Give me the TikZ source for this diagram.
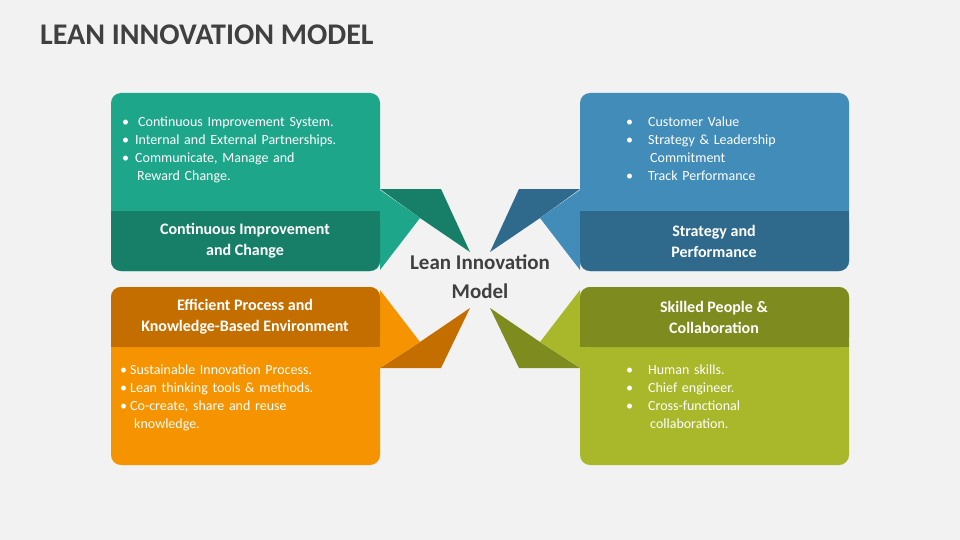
\documentclass[tikz,border=0pt]{standalone}
\usepackage{fontspec}
\setmainfont{Carlito}
\definecolor{tl}{HTML}{1EA68A}\definecolor{td}{HTML}{177F67}
\definecolor{bl}{HTML}{418CB8}\definecolor{bd}{HTML}{2F6A8C}
\definecolor{ol}{HTML}{F59300}\definecolor{od}{HTML}{C46E00}
\definecolor{gl}{HTML}{A8B82A}\definecolor{gd}{HTML}{7E8B1F}
\definecolor{bg}{HTML}{F2F2F2}\definecolor{tx}{HTML}{404040}
\begin{document}
\begin{tikzpicture}[x=1pt,y=-1pt,
  body/.style={text=white,font=\fontsize{14}{18}\selectfont,align=left,anchor=north west,text width=250pt,inner sep=0pt},
  head/.style={text=white,font=\bfseries\fontsize{16}{21}\selectfont,align=center}]
\fill[bg] (0,0) rectangle (960,540);
\useasboundingbox (0,0) rectangle (960,540);
\node[anchor=west,text=tx,font=\bfseries\fontsize{30}{34}\selectfont,inner sep=0pt] (title) at (40,35) {LEAN INNOVATION MODEL};
% folds
\fill[td] (380,189)--(441,189)--(470,252)--(420,218)--cycle;
\fill[tl] (380,190)--(420,218)--(380,270)--cycle;
\fill[bd] (580,189)--(519,189)--(490,252)--(540,218)--cycle;
\fill[bl] (580,190)--(540,218)--(580,270)--cycle;
\fill[od] (380,368)--(441,368)--(470,308)--(420,342)--cycle;
\fill[ol] (380,290)--(420,342)--(380,368)--cycle;
\fill[gd] (580,368)--(519,368)--(490,308)--(540,342)--cycle;
\fill[gl] (580,290)--(540,342)--(580,368)--cycle;
% boxes
\fill[tl,rounded corners=10pt] (111,93) rectangle (380,271);
\fill[td,rounded corners=10pt] (111,211) rectangle (380,271);
\fill[td] (111,211) rectangle (380,240);
\fill[bl,rounded corners=10pt] (580,93) rectangle (849,271);
\fill[bd,rounded corners=10pt] (580,211) rectangle (849,271);
\fill[bd] (580,211) rectangle (849,240);
\fill[ol,rounded corners=10pt] (111,287) rectangle (380,465);
\fill[od,rounded corners=10pt] (111,287) rectangle (380,347);
\fill[od] (111,320) rectangle (380,347);
\fill[gl,rounded corners=10pt] (580,287) rectangle (849,465);
\fill[gd,rounded corners=10pt] (580,287) rectangle (849,347);
\fill[gd] (580,320) rectangle (849,347);
% texts
\node[head] (h1) at (245,241) {Continuous Improvement\\and Change};
\node[head] (h2) at (714,241) {Strategy and\\Performance};
\node[head] (h3) at (245,317) {Efficient Process and\\Knowledge-Based Environment};
\node[head] (h4) at (714,317) {Skilled People \&\\Collaboration};
\node[body] (b1) at (122,117) {\textbullet\hspace{9pt}Continuous Improvement System.\\
\textbullet\hspace{6pt}Internal and External Partnerships.\\
\textbullet\hspace{6pt}Communicate, Manage and\\\hspace{15pt}Reward Change.};
\node[body] (b2) at (626,117) {\textbullet\hspace{15pt}Customer Value\\
\textbullet\hspace{15pt}Strategy \& Leadership\\\hspace{24pt}Commitment\\
\textbullet\hspace{15pt}Track Performance};
\node[body] (b3) at (120,337) {};
\node[body] (b3) at (120,365) {\textbullet\hspace{3pt}Sustainable Innovation Process.\\
\textbullet\hspace{3pt}Lean thinking tools \& methods.\\
\textbullet\hspace{3pt}Co-create, share and reuse\\\hspace{14pt}knowledge.};
\node[body] (b4) at (626,365) {\textbullet\hspace{15pt}Human skills.\\
\textbullet\hspace{15pt}Chief engineer.\\
\textbullet\hspace{15pt}Cross-functional\\\hspace{24pt}collaboration.};
\node[text=tx,font=\bfseries\fontsize{21}{29}\selectfont,align=center] (c) at (480,277) {Lean Innovation\\Model};
\end{tikzpicture}
\end{document}
